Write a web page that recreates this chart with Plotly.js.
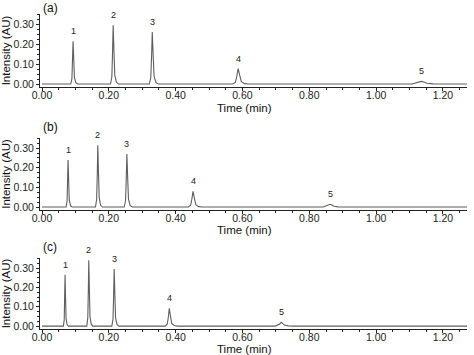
<!DOCTYPE html>
<html>
<head>
<meta charset="utf-8">
<script src="https://cdn.plot.ly/plotly-3.0.1.min.js"></script>
<style>html,body{margin:0;padding:0;background:#fff;}#chart{width:474px;height:355px;}</style>
</head>
<body>
<div id="chart"></div>
<script>
// ---- Chromatogram (a) ----
const timeA = [0, 0.086, 0.0895, 0.0913, 0.093, 0.0951, 0.0972, 0.1014, 0.107,
  0.205, 0.209, 0.211, 0.213, 0.2154, 0.2178, 0.2226, 0.229,
  0.321, 0.3255, 0.3278, 0.330, 0.3327, 0.3354, 0.3408, 0.348,
  0.571, 0.579, 0.583, 0.587, 0.5918, 0.5966, 0.6062, 0.619,
  1.107, 1.121, 1.128, 1.135, 1.143, 1.152, 1.170, 1.190, 1.272];
const intensityA = [0, 0, 0.026, 0.108, 0.215, 0.118, 0.032, 0.006, 0,
  0, 0.035, 0.148, 0.295, 0.162, 0.044, 0.009, 0,
  0, 0.031, 0.131, 0.262, 0.144, 0.039, 0.008, 0,
  0, 0.009, 0.039, 0.078, 0.043, 0.012, 0.002, 0,
  0, 0.005, 0.009, 0.013, 0.010, 0.004, 0.001, 0, 0];
// ---- Chromatogram (b) ----
const timeB = [0, 0.072, 0.075, 0.0765, 0.078, 0.0798, 0.0816, 0.0852, 0.090,
  0.160, 0.1635, 0.1653, 0.167, 0.1691, 0.1712, 0.1754, 0.181,
  0.246, 0.250, 0.252, 0.254, 0.2564, 0.2588, 0.2636, 0.270,
  0.438, 0.445, 0.4485, 0.452, 0.4562, 0.4604, 0.4688, 0.480,
  0.842, 0.852, 0.857, 0.862, 0.868, 0.874, 0.886, 0.900, 1.272];
const intensityB = [0, 0, 0.029, 0.120, 0.240, 0.132, 0.036, 0.007, 0,
  0, 0.038, 0.158, 0.315, 0.173, 0.047, 0.009, 0,
  0, 0.032, 0.135, 0.270, 0.149, 0.041, 0.008, 0,
  0, 0.010, 0.040, 0.080, 0.044, 0.012, 0.002, 0,
  0, 0.005, 0.009, 0.014, 0.010, 0.004, 0.001, 0, 0];
// ---- Chromatogram (c) ----
const timeC = [0, 0.064, 0.0665, 0.06775, 0.069, 0.0705, 0.072, 0.075, 0.079,
  0.134, 0.137, 0.1385, 0.140, 0.1418, 0.1436, 0.1472, 0.152,
  0.209, 0.2125, 0.21425, 0.216, 0.2181, 0.2202, 0.2244, 0.230,
  0.369, 0.375, 0.378, 0.381, 0.3846, 0.3882, 0.3954, 0.405,
  0.698, 0.707, 0.7115, 0.716, 0.7214, 0.7268, 0.7376, 0.752, 1.272];
const intensityC = [0, 0, 0.032, 0.132, 0.265, 0.146, 0.040, 0.008, 0,
  0, 0.041, 0.170, 0.340, 0.187, 0.051, 0.010, 0,
  0, 0.035, 0.148, 0.295, 0.162, 0.044, 0.009, 0,
  0, 0.011, 0.046, 0.092, 0.051, 0.014, 0.003, 0,
  0, 0.006, 0.011, 0.020, 0.012, 0.004, 0.001, 0, 0];

// ---- Peak labels ----
const peakNames = ["1", "2", "3", "4", "5"];
const peakTimesA = [0.093, 0.213, 0.330, 0.587, 1.135];
const peakHeightsA = [0.215, 0.295, 0.262, 0.078, 0.013];
const peakTimesB = [0.078, 0.167, 0.254, 0.452, 0.862];
const peakHeightsB = [0.240, 0.315, 0.270, 0.080, 0.014];
const peakTimesC = [0.069, 0.140, 0.216, 0.381, 0.716];
const peakHeightsC = [0.265, 0.340, 0.295, 0.092, 0.020];
const panelLabels = ["(a)", "(b)", "(c)"];
const xTitle = "Time (min)";
const yTitle = "Intensity (AU)";

const xTickVals = [0, 0.2, 0.4, 0.6, 0.8, 1.0, 1.2];
const yTickVals = [0, 0.1, 0.2, 0.3];

const FONT = "Liberation Sans, Arial, sans-serif";
const lineStyle = {color: "#5e5e5e", width: 1.1};

const traces = [
  {x: timeA, y: intensityA, xaxis: "x", yaxis: "y"},
  {x: timeB, y: intensityB, xaxis: "x2", yaxis: "y2"},
  {x: timeC, y: intensityC, xaxis: "x3", yaxis: "y3"}
].map(t => Object.assign(t, {type: "scatter", mode: "lines", line: lineStyle, hoverinfo: "skip", showlegend: false}));

function xAxis(anchor) {
  return {
    anchor: anchor, range: [-0.006, 1.272], domain: [0, 1],
    showline: true, linecolor: "#222", linewidth: 1,
    showgrid: false, zeroline: false,
    ticks: "outside", ticklen: 3, tickcolor: "#222", tickwidth: 1,
    tickvals: xTickVals, tickformat: ".2f",
    minor: {dtick: 0.05, ticks: "outside", ticklen: 2, tickcolor: "#222", showgrid: false},
    tickfont: {family: FONT, size: 10.5, color: "#222"},
    ticklabelstandoff: -5,
    automargin: false
  };
}
function yAxis(anchor, domain) {
  return {
    anchor: anchor, domain: domain, range: [-0.015, 0.352],
    showline: true, linecolor: "#222", linewidth: 1,
    showgrid: false, zeroline: false,
    ticks: "outside", ticklen: 3, tickcolor: "#222", tickwidth: 1,
    tickvals: yTickVals, tickformat: ".2f",
    minor: {dtick: 0.025, ticks: "outside", ticklen: 2, tickcolor: "#222", showgrid: false},
    tickfont: {family: FONT, size: 10.5, color: "#222"},
    title: {text: yTitle, font: {family: FONT, size: 11.5, color: "#111"}, standoff: 3},
    automargin: false
  };
}

const annotations = [];
[[peakTimesA, peakHeightsA, "x", "y"], [peakTimesB, peakHeightsB, "x2", "y2"], [peakTimesC, peakHeightsC, "x3", "y3"]]
  .forEach(([ts, hs, xr, yr]) => {
    ts.forEach((t, i) => annotations.push({
      x: t, y: hs[i], xref: xr, yref: yr, text: peakNames[i], showarrow: false,
      yanchor: "bottom", yshift: 3, font: {family: FONT, size: 9, color: "#222"}
    }));
  });
const panelY = [0.978, 0.643, 0.303];
panelLabels.forEach((lab, i) => annotations.push({
  x: 0.002, y: panelY[i], xref: "paper", yref: "paper", xanchor: "left", yanchor: "middle",
  text: lab, showarrow: false, font: {family: FONT, size: 12, color: "#111"}
}));
const xTitleY = [0.697, 0.351, 0.016];
xTitleY.forEach(yy => annotations.push({
  x: 0.478, y: yy, xref: "paper", yref: "paper", xanchor: "center", yanchor: "middle",
  text: xTitle, showarrow: false, font: {family: FONT, size: 11.5, color: "#111"}
}));

const layout = {
  width: 474, height: 355,
  margin: {l: 40, r: 7, t: 0, b: 0},
  paper_bgcolor: "#fff", plot_bgcolor: "#fff",
  xaxis: xAxis("y"), xaxis2: xAxis("y2"), xaxis3: xAxis("y3"),
  yaxis: yAxis("x", [0.7549, 0.9606]),
  yaxis2: yAxis("x2", [0.4085, 0.6113]),
  yaxis3: yAxis("x3", [0.0732, 0.2732]),
  annotations: annotations,
  showlegend: false
};

Plotly.newPlot("chart", traces, layout, {staticPlot: true, displayModeBar: false});
</script>
</body>
</html>
